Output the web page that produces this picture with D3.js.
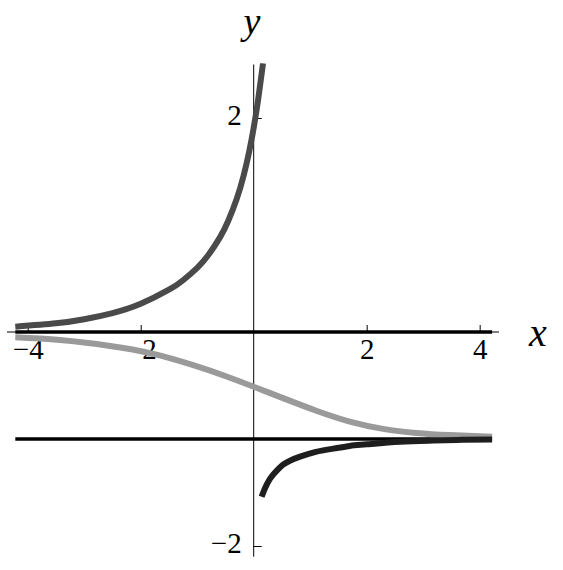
<!DOCTYPE html>
<html><head><meta charset="utf-8">
<script src="https://cdn.jsdelivr.net/npm/d3@7"></script>
<style>body{margin:0;background:#fff}svg{display:block}svg text{font-family:"Liberation Serif","DejaVu Serif",serif}</style>
</head><body><svg id="c" width="563" height="570"></svg>
<script>
const xTicks = [-4, -2, 2, 4];
const yTicks = [-2, 2];
const equilibria = [0, -1];

const upperX = [-4.22, -3.5, -3.0, -2.5, -2.0, -1.5, -1.25, -1.0, -0.8, -0.6, -0.45, -0.3, -0.18, -0.08, 0.0, 0.08, 0.165];
const upperY = [0.05, 0.081, 0.119, 0.177, 0.264, 0.395, 0.484, 0.60, 0.722, 0.882, 1.04, 1.245, 1.458, 1.686, 1.908, 2.177, 2.51];

const middleX = [-4.22, -3.43, -2.54, -1.81, -1.07, -0.48, 0.08, 0.52, 1.12, 1.70, 2.29, 2.88, 3.47, 4.22];
const middleY = [-0.05, -0.075, -0.13, -0.20, -0.31, -0.416, -0.528, -0.618, -0.738, -0.837, -0.905, -0.943, -0.963, -0.98];

const lowerX = [0.14, 0.2, 0.29, 0.4, 0.52, 0.65, 0.82, 1.1, 1.41, 1.7, 2.0, 2.59, 3.18, 3.7, 4.22];
const lowerY = [-1.54, -1.46, -1.37, -1.30, -1.24, -1.20, -1.165, -1.12, -1.09, -1.065, -1.05, -1.025, -1.015, -1.008, -1.004];

const series = [
  {xs: upperX, ys: upperY, color: "#4a4a4a"},
  {xs: middleX, ys: middleY, color: "#9a9a9a"},
  {xs: lowerX, ys: lowerY, color: "#1e1e1e"}
];

const svg = d3.select("#c");
const x = d3.scaleLinear().domain([-4.22, 4.22]).range([15.3, 492.1]);
const y = d3.scaleLinear().domain([-2.1, 2.5]).range([556.7, 64.5]);
const fmt = d => (d < 0 ? "\u2212" : "") + Math.abs(d);
const font = '"Liberation Serif","DejaVu Serif",serif';

// equilibrium lines
svg.selectAll("line.eq").data(equilibria).join("line")
  .attr("class", "eq")
  .attr("x1", x(-4.22)).attr("x2", x(4.22))
  .attr("y1", d => y(d)).attr("y2", d => y(d))
  .attr("stroke", "#000").attr("stroke-width", 3.3);

// thin axes
svg.append("line").attr("x1", 7).attr("x2", 499).attr("y1", y(0)).attr("y2", y(0))
  .attr("stroke", "#000").attr("stroke-width", 1);
svg.append("line").attr("x1", x(0)).attr("x2", x(0)).attr("y1", y(2.5)).attr("y2", y(-2.1))
  .attr("stroke", "#000").attr("stroke-width", 1);

const gx = svg.append("g").attr("transform", `translate(0,${y(0)})`)
  .call(d3.axisBottom(x).tickValues(xTicks).tickSize(-7).tickPadding(6).tickFormat(fmt));
gx.select(".domain").remove();
gx.attr("font-family", null).attr("font-size", null);
gx.selectAll("text").style("font-family", font).style("font-size", "29px").attr("fill", "#000");

const gy = svg.append("g").attr("transform", `translate(${x(0)},0)`)
  .call(d3.axisLeft(y).tickValues(yTicks).tickSize(-8).tickPadding(12).tickFormat(fmt));
gy.select(".domain").remove();
gy.attr("font-family", null).attr("font-size", null);
gy.selectAll("text").style("font-family", font).style("font-size", "29px").attr("fill", "#000").attr("dy", "0.23em");

// curves
const line = d3.line().x(d => x(d[0])).y(d => y(d[1])).curve(d3.curveNatural);
series.forEach(s => {
  svg.append("path")
    .attr("d", line(s.xs.map((v, i) => [v, s.ys[i]])))
    .attr("fill", "none").attr("stroke", s.color).attr("stroke-width", 6);
});

// axis labels
svg.append("text").attr("x", 252).attr("y", 34).attr("text-anchor", "middle")
  .style("font-family", font).style("font-style", "italic").style("font-size", "38px").text("y");
svg.append("text").attr("x", 538).attr("y", 346).attr("text-anchor", "middle")
  .style("font-family", font).style("font-style", "italic").style("font-size", "40px").text("x");
</script></body></html>
